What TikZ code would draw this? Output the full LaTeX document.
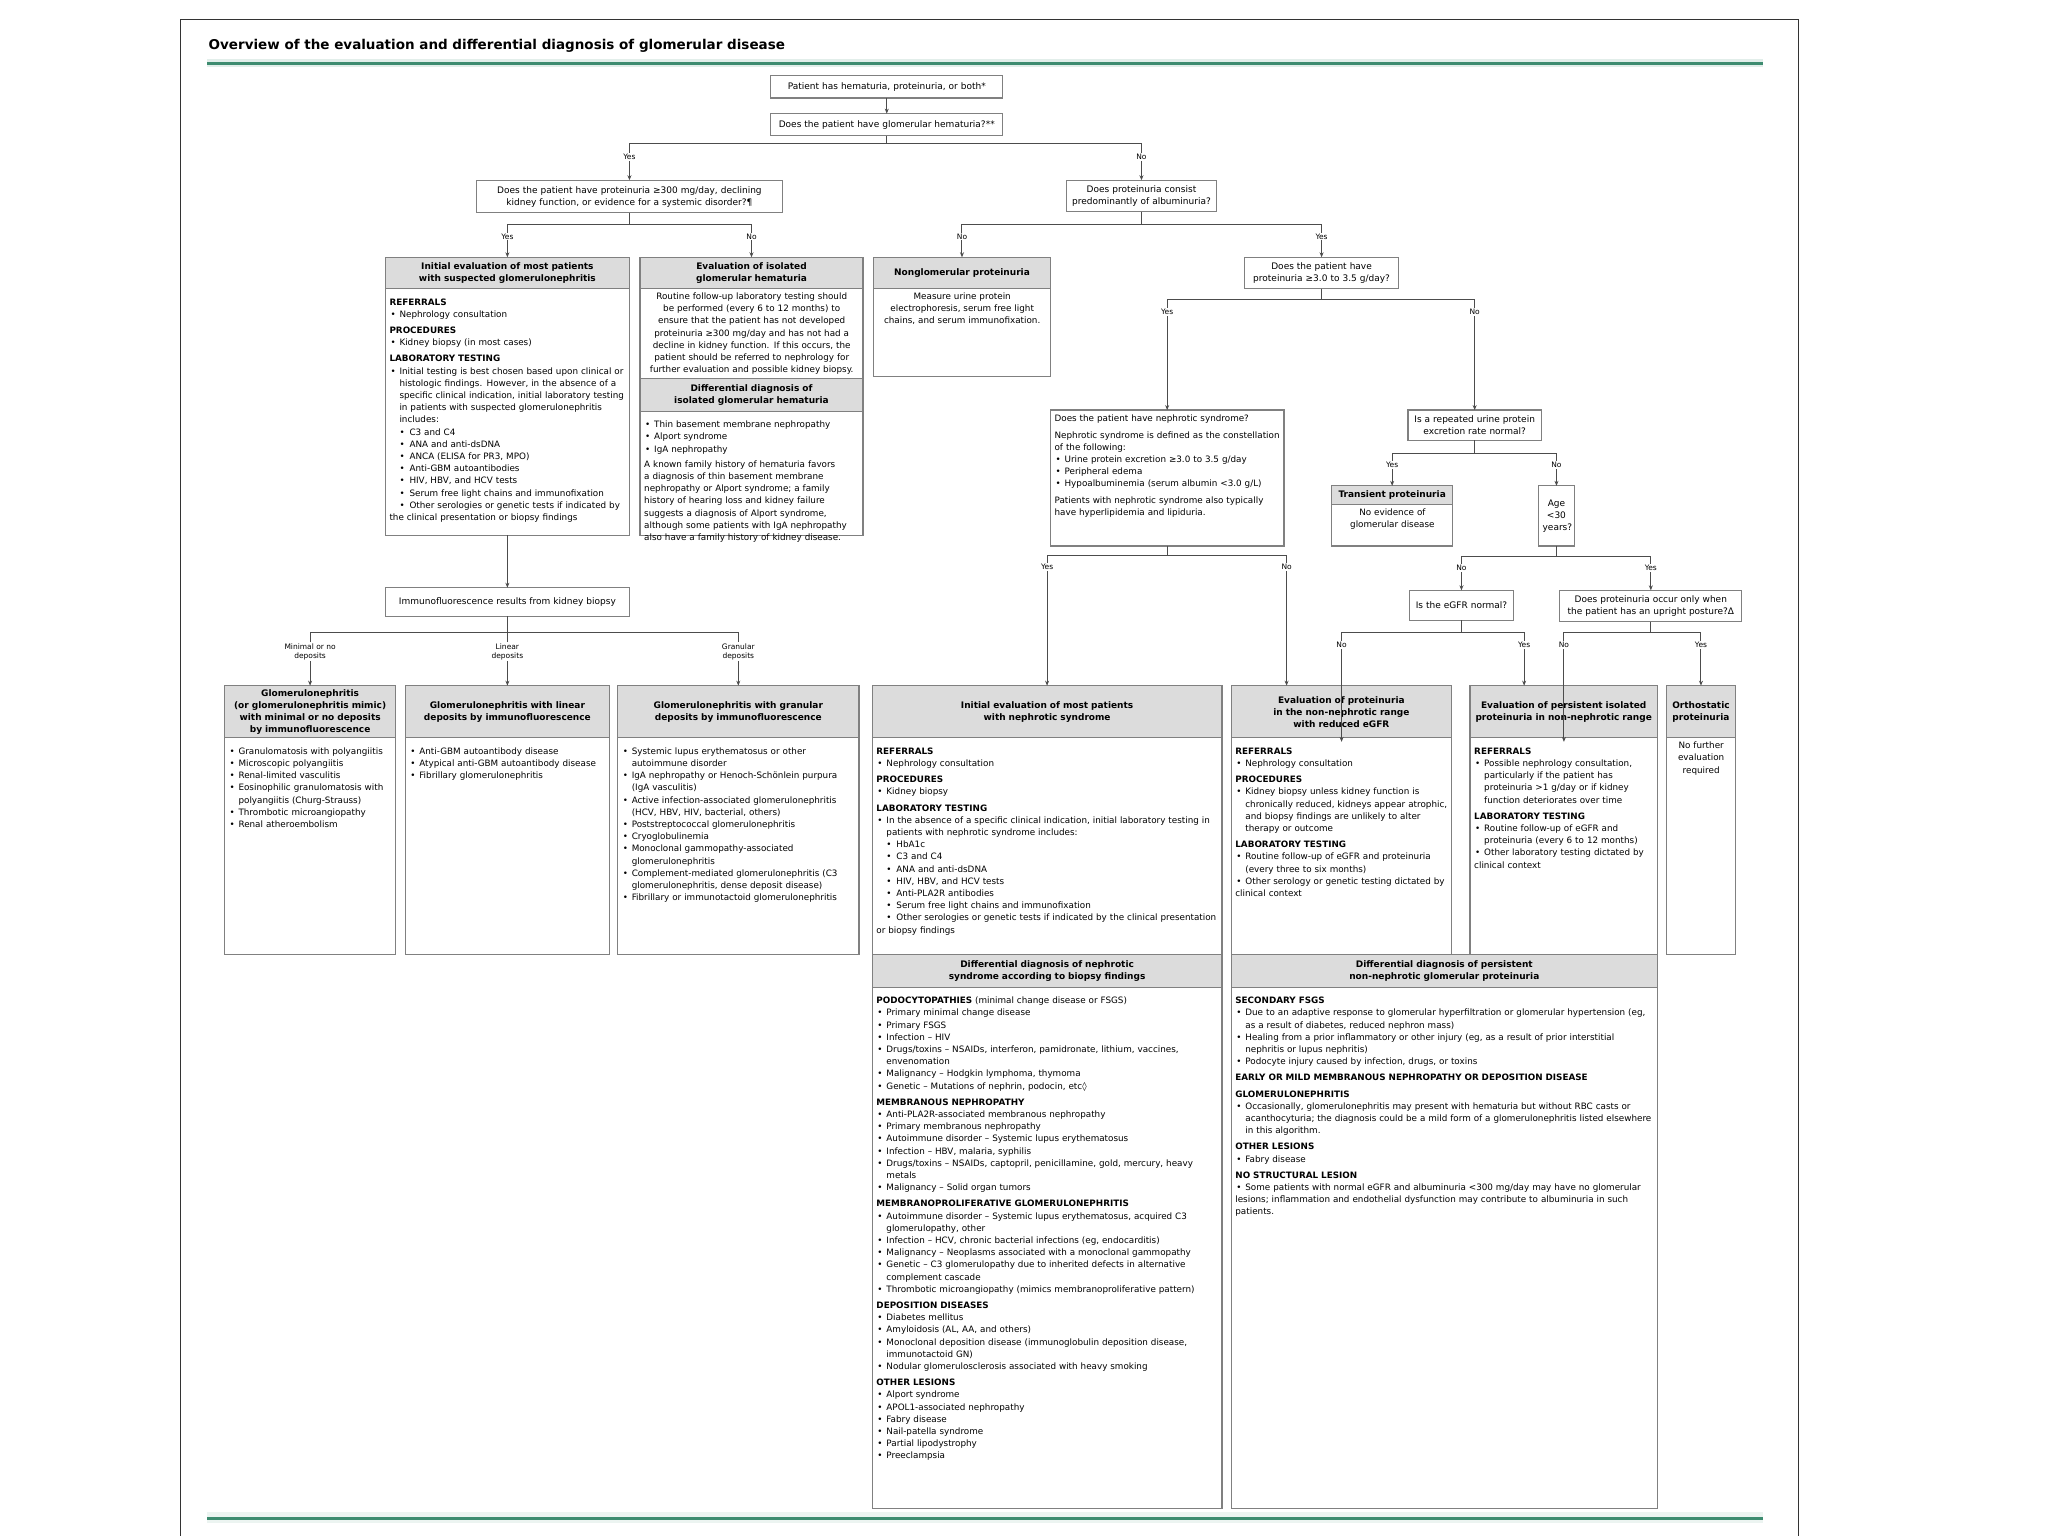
\documentclass[tikz,border=0pt]{standalone}
\usepackage{fontspec}
\setmainfont{DejaVu Sans}
\usetikzlibrary{calc,arrows.meta}
\definecolor{bord}{HTML}{808080}
\definecolor{hdrc}{HTML}{DCDCDC}
\definecolor{teal2}{HTML}{3E8C70}
\hyphenpenalty=10000 \exhyphenpenalty=10000
\newcommand\itm[1]{\par\hangindent=10pt\hangafter=1\noindent\makebox[10pt][l]{\hspace{1pt}\textbullet}#1}
\newcommand\sitm[1]{\par\hangindent=20pt\hangafter=1\noindent\hspace*{10pt}\makebox[10pt][l]{\textbullet}#1}
\newcommand\sect[1]{\par\vspace{4pt}\noindent\textbf{#1}}
\newcommand\fsect[1]{\par\noindent\textbf{#1}}
\newcommand\mkbox[6]{\pgfmathsetmacro\bw{(#4-#2)*1.3196}\pgfmathsetmacro\bh{(#5-#3)*1.306}%
\node[#6, anchor=north west, minimum width=\bw pt, minimum height=\bh pt] (#1) at (#2,#3) {};}
\newcommand\qbox[6]{\mkbox{#1}{#2}{#3}{#4}{#5}{bx}\pgfmathsetmacro\tw{(#4-#2)*1.3196-8}%
\node[qt, text width=\tw pt] (#1t) at (#1.center) {#6};}
\newcommand\gbox[9]{\mkbox{#1}{#2}{#3}{#4}{#6}{bx}\mkbox{#1h}{#2}{#3}{#4}{#5}{hd}%
\pgfmathsetmacro\tw{(#4-#2)*1.3196-8}%
\node[ht, text width=\tw pt] (#1ht) at (#1h.center) {#7};%
\node[bt, anchor=north west, text width=\tw pt, align=#9] (#1b) at ([xshift=4pt,yshift=-4pt]#2,#5) {#8};}
\tikzset{
 x=1.3196pt, y=-1.306pt,
 bx/.style={draw=bord, line width=1.2pt, fill=white, inner sep=0pt, outer sep=0pt},
 hd/.style={draw=bord, line width=1.2pt, fill=hdrc, inner sep=0pt, outer sep=0pt},
 ht/.style={inner sep=0pt, align=center, font=\fontsize{9}{12}\selectfont\bfseries},
 qt/.style={inner sep=0pt, align=center, font=\fontsize{9}{12}\selectfont},
 bt/.style={inner sep=0pt, font=\fontsize{8.8}{12.2}\selectfont},
 ln/.style={draw=black!70, line width=1pt},
 arr/.style={ln, -{Stealth[length=5pt,width=4pt]}},
 lab/.style={fill=white, inner sep=1pt, align=center, font=\fontsize{7.5}{9.5}\selectfont}
}
\begin{document}
\begin{tikzpicture}
\useasboundingbox (0,0) rectangle (1552,1176);
\fill[white] (0,0) rectangle (1552,1176);
\draw[black!80, line width=1.2pt] (137,15) rectangle (1363,1190);
\node[anchor=west, inner sep=0pt, font=\fontsize{13.5}{15}\selectfont\bfseries] (title) at (158,35) {Overview of the evaluation and differential diagnosis of glomerular disease};
\fill[teal2!15] (157,45) rectangle (1336,51);
\draw[teal2, line width=3pt] (157,48.5) -- (1336,48.5);
\fill[teal2!10] (157,1158) rectangle (1336,1166);
\draw[teal2, line width=3pt] (157,1163) -- (1336,1163);

% question boxes
\qbox{b1}{584}{58}{760}{75}{Patient has hematuria, proteinuria, or both*}
\qbox{b2}{584}{87}{760}{104}{Does the patient have glomerular hematuria?**}
\qbox{b3}{361}{138}{593}{163}{Does the patient have proteinuria ≥300 mg/day, declining kidney function, or evidence for a systemic disorder?¶}
\qbox{b4}{808}{138}{922}{162}{Does proteinuria consist predominantly of albuminuria?}
\qbox{D}{943}{197}{1060}{221}{Does the patient have proteinuria ≥3.0 to 3.5 g/day?}
\qbox{F}{1067}{314}{1168}{337}{Is a repeated urine protein excretion rate normal?}
\qbox{H}{1166}{372}{1193}{418}{Age\\<30\\years?}
\qbox{I}{1068}{452}{1147}{475}{Is the eGFR normal?}
\qbox{J}{1182}{452}{1320}{476}{Does proteinuria occur only when the patient has an upright posture?Δ}
\qbox{IF}{292}{450}{477}{472}{Immunofluorescence results from kidney biopsy}
\mkbox{E}{796}{314}{973}{418}{bx}
\pgfmathsetmacro\tw{(973-796)*1.3196-8}
\node[bt, anchor=north west, text width=\tw pt, align=left] (Et) at ([xshift=4pt,yshift=-5pt]796,314) {Does the patient have nephrotic syndrome?\par\vspace{4pt}\noindent Nephrotic syndrome is defined as the constellation of the following:
\itm{Urine protein excretion ≥3.0 to 3.5 g/day}\itm{Peripheral edema}\itm{Hypoalbuminemia (serum albumin <3.0 g/L)}\par\vspace{4pt}\noindent Patients with nephrotic syndrome also typically have hyperlipidemia and lipiduria.};

% connectors
\coordinate (s2) at (672,110); \coordinate (s3) at (477,172); \coordinate (s4) at (865,172);
\coordinate (sD) at (1001.5,229); \coordinate (sF) at (1117.5,347); \coordinate (sE) at (884.5,425);
\coordinate (sH) at (1179.5,426); \coordinate (sI) at (1107.5,484); \coordinate (sJ) at (1251,484);
\coordinate (sIF) at (384.5,484);
\coordinate (Oa) at (975,525); \coordinate (Ob) at (1057,525); \coordinate (Pa) at (1155,525); \coordinate (Pb) at (1214,525);
\draw[arr] (b1.south) -- (b2.north);
\draw[ln] (b2.south) -- (s2); \draw[arr] (s2) -| (b3.north); \draw[arr] (s2) -| (b4.north);
\draw[ln] (b3.south) -- (s3);
\draw[ln] (b4.south) -- (s4);
\draw[ln] (D.south) -- (sD);
\draw[ln] (F.south) -- (sF);
\draw[ln] (E.south) -- (sE);
\draw[ln] (H.south) -- (sH);
\draw[ln] (I.south) -- (sI);
\draw[ln] (J.south) -- (sJ);
\draw[ln] (IF.south) -- (sIF);

% header boxes
\gbox{A}{292}{197}{477}{221}{410}{Initial evaluation of most patients\\with suspected glomerulonephritis}{\fsect{REFERRALS}\itm{Nephrology consultation}\sect{PROCEDURES}\itm{Kidney biopsy (in most cases)}\sect{LABORATORY TESTING}\itm{Initial testing is best chosen based upon clinical or histologic findings. However, in the absence of a specific clinical indication, initial laboratory testing in patients with suspected glomerulonephritis includes:}\sitm{C3 and C4}\sitm{ANA and anti-dsDNA}\sitm{ANCA (ELISA for PR3, MPO)}\sitm{Anti-GBM autoantibodies}\sitm{HIV, HBV, and HCV tests}\sitm{Serum free light chains and immunofixation}\sitm{Other serologies or genetic tests if indicated by the clinical presentation or biopsy findings}}{left}
\gbox{B}{485}{197}{654}{221}{290}{Evaluation of isolated\\glomerular hematuria}{Routine follow-up laboratory testing should be performed (every 6 to 12 months) to ensure that the patient has not developed proteinuria ≥300 mg/day and has not had a decline in kidney function. If this occurs, the patient should be referred to nephrology for further evaluation and possible kidney biopsy.}{center}
\gbox{BB}{485}{290}{654}{315}{410}{Differential diagnosis of\\isolated glomerular hematuria}{\itm{Thin basement membrane nephropathy}\itm{Alport syndrome}\itm{IgA nephropathy}\par\vspace{3pt}\noindent A known family history of hematuria favors a diagnosis of thin basement membrane nephropathy or Alport syndrome; a family history of hearing loss and kidney failure suggests a diagnosis of Alport syndrome, although some patients with IgA nephropathy also have a family history of kidney disease.}{left}
\gbox{C}{662}{197}{796}{221}{288}{Nonglomerular proteinuria}{Measure urine protein electrophoresis, serum free light chains, and serum immunofixation.}{center}
\gbox{G}{1009}{372}{1101}{386}{418}{Transient proteinuria}{No evidence of\\glomerular disease}{center}

\gbox{K}{170}{525}{300}{565}{731}{Glomerulonephritis\\(or glomerulonephritis mimic) with minimal or no deposits by immunofluorescence}{\itm{Granulomatosis with polyangiitis}\itm{Microscopic polyangiitis}\itm{Renal-limited vasculitis}\itm{Eosinophilic granulomatosis with polyangiitis (Churg-Strauss)}\itm{Thrombotic microangiopathy}\itm{Renal atheroembolism}}{left}
\gbox{L}{307}{525}{462}{565}{731}{Glomerulonephritis with linear deposits by immunofluorescence}{\itm{Anti-GBM autoantibody disease}\itm{Atypical anti-GBM autoantibody disease}\itm{Fibrillary glomerulonephritis}}{left}
\gbox{M}{468}{525}{651}{565}{731}{Glomerulonephritis with granular deposits by immunofluorescence}{\itm{Systemic lupus erythematosus or other autoimmune disorder}\itm{IgA nephropathy or Henoch-Schönlein purpura (IgA vasculitis)}\itm{Active infection-associated glomerulonephritis (HCV, HBV, HIV, bacterial, others)}\itm{Poststreptococcal glomerulonephritis}\itm{Cryoglobulinemia}\itm{Monoclonal gammopathy-associated glomerulonephritis}\itm{Complement-mediated glomerulonephritis (C3 glomerulonephritis, dense deposit disease)}\itm{Fibrillary or immunotactoid glomerulonephritis}}{left}
\gbox{N}{661}{525}{926}{565}{731}{Initial evaluation of most patients\\with nephrotic syndrome}{\fsect{REFERRALS}\itm{Nephrology consultation}\sect{PROCEDURES}\itm{Kidney biopsy}\sect{LABORATORY TESTING}\itm{In the absence of a specific clinical indication, initial laboratory testing in patients with nephrotic syndrome includes:}\sitm{HbA1c}\sitm{C3 and C4}\sitm{ANA and anti-dsDNA}\sitm{HIV, HBV, and HCV tests}\sitm{Anti-PLA2R antibodies}\sitm{Serum free light chains and immunofixation}\sitm{Other serologies or genetic tests if indicated by the clinical presentation or biopsy findings}}{left}
\gbox{NN}{661}{731}{926}{756}{1155}{Differential diagnosis of nephrotic\\syndrome according to biopsy findings}{\fsect{PODOCYTOPATHIES} (minimal change disease or FSGS)\itm{Primary minimal change disease}\itm{Primary FSGS}\itm{Infection – HIV}\itm{Drugs/toxins – NSAIDs, interferon, pamidronate, lithium, vaccines, envenomation}\itm{Malignancy – Hodgkin lymphoma, thymoma}\itm{Genetic – Mutations of nephrin, podocin, etc◊}\sect{MEMBRANOUS NEPHROPATHY}\itm{Anti-PLA2R-associated membranous nephropathy}\itm{Primary membranous nephropathy}\itm{Autoimmune disorder – Systemic lupus erythematosus}\itm{Infection – HBV, malaria, syphilis}\itm{Drugs/toxins – NSAIDs, captopril, penicillamine, gold, mercury, heavy metals}\itm{Malignancy – Solid organ tumors}\sect{MEMBRANOPROLIFERATIVE GLOMERULONEPHRITIS}\itm{Autoimmune disorder – Systemic lupus erythematosus, acquired C3 glomerulopathy, other}\itm{Infection – HCV, chronic bacterial infections (eg, endocarditis)}\itm{Malignancy – Neoplasms associated with a monoclonal gammopathy}\itm{Genetic – C3 glomerulopathy due to inherited defects in alternative complement cascade}\itm{Thrombotic microangiopathy (mimics membranoproliferative pattern)}\sect{DEPOSITION DISEASES}\itm{Diabetes mellitus}\itm{Amyloidosis (AL, AA, and others)}\itm{Monoclonal deposition disease (immunoglobulin deposition disease, immunotactoid GN)}\itm{Nodular glomerulosclerosis associated with heavy smoking}\sect{OTHER LESIONS}\itm{Alport syndrome}\itm{APOL1-associated nephropathy}\itm{Fabry disease}\itm{Nail-patella syndrome}\itm{Partial lipodystrophy}\itm{Preeclampsia}}{left}
\gbox{O}{933}{525}{1100}{565}{731}{Evaluation of proteinuria\\in the non-nephrotic range\\with reduced eGFR}{\fsect{REFERRALS}\itm{Nephrology consultation}\sect{PROCEDURES}\itm{Kidney biopsy unless kidney function is chronically reduced, kidneys appear atrophic, and biopsy findings are unlikely to alter therapy or outcome}\sect{LABORATORY TESTING}\itm{Routine follow-up of eGFR and proteinuria (every three to six months)}\itm{Other serology or genetic testing dictated by clinical context}}{left}
\gbox{P}{1114}{525}{1256}{565}{731}{Evaluation of persistent isolated proteinuria in non-nephrotic range}{\fsect{REFERRALS}\itm{Possible nephrology consultation, particularly if the patient has proteinuria >1 g/day or if kidney function deteriorates over time}\sect{LABORATORY TESTING}\itm{Routine follow-up of eGFR and proteinuria (every 6 to 12 months)}\itm{Other laboratory testing dictated by clinical context}}{left}
\gbox{Q}{1263}{525}{1315}{565}{731}{Orthostatic\\proteinuria}{No further evaluation required}{center}
\gbox{R}{933}{731}{1256}{756}{1155}{Differential diagnosis of persistent\\non-nephrotic glomerular proteinuria}{\fsect{SECONDARY FSGS}\itm{Due to an adaptive response to glomerular hyperfiltration or glomerular hypertension (eg, as a result of diabetes, reduced nephron mass)}\itm{Healing from a prior inflammatory or other injury (eg, as a result of prior interstitial nephritis or lupus nephritis)}\itm{Podocyte injury caused by infection, drugs, or toxins}\sect{EARLY OR MILD MEMBRANOUS NEPHROPATHY OR DEPOSITION DISEASE}\sect{GLOMERULONEPHRITIS}\itm{Occasionally, glomerulonephritis may present with hematuria but without RBC casts or acanthocyturia; the diagnosis could be a mild form of a glomerulonephritis listed elsewhere in this algorithm.}\sect{OTHER LESIONS}\itm{Fabry disease}\sect{NO STRUCTURAL LESION}\itm{Some patients with normal eGFR and albuminuria <300 mg/day may have no glomerular lesions; inflammation and endothelial dysfunction may contribute to albuminuria in such patients.}}{left}

% branch arrows
\draw[arr] (s3) -| (A.north); \draw[arr] (s3) -| (B.north);
\draw[arr] (s4) -| (C.north); \draw[arr] (s4) -| (D.north);
\draw[arr] (sD) -| (E.north); \draw[arr] (sD) -| (F.north);
\draw[arr] (sF) -| (G.north); \draw[arr] (sF) -| (H.north);
\draw[arr] (sE) -| (N.north); \draw[arr] (sE) -| (Oa);
\draw[arr] (sH) -| (I.north); \draw[arr] (sH) -| (J.north);
\draw[arr] (sI) -| (Ob); \draw[arr] (sI) -| (Pa);
\draw[arr] (sJ) -| (Pb); \draw[arr] (sJ) -| (Q.north);
\draw[arr] (A.south) -- (IF.north);
\draw[arr] (sIF) -| (K.north); \draw[arr] (sIF) -| (L.north); \draw[arr] (sIF) -| (M.north);

% labels
\node[lab] (l1) at ($(b3.north |- s2)+(0,10)$) {Yes};
\node[lab] (l2) at ($(b4.north |- s2)+(0,10)$) {No};
\node[lab] (l3) at ($(A.north |- s3)+(0,9)$) {Yes};
\node[lab] (l4) at ($(B.north |- s3)+(0,9)$) {No};
\node[lab] (l5) at ($(C.north |- s4)+(0,9)$) {No};
\node[lab] (l6) at ($(D.north |- s4)+(0,9)$) {Yes};
\node[lab] (l7) at ($(E.north |- sD)+(0,10)$) {Yes};
\node[lab] (l8) at ($(F.north |- sD)+(0,10)$) {No};
\node[lab] (l9) at ($(G.north |- sF)+(0,9)$) {Yes};
\node[lab] (l10) at ($(H.north |- sF)+(0,9)$) {No};
\node[lab] (l11) at ($(N.north |- sE)+(0,9)$) {Yes};
\node[lab] (l12) at ($(Oa |- sE)+(0,9)$) {No};
\node[lab] (l13) at ($(I.north |- sH)+(0,9)$) {No};
\node[lab] (l14) at ($(J.north |- sH)+(0,9)$) {Yes};
\node[lab] (l15) at ($(Ob |- sI)+(0,10)$) {No};
\node[lab] (l16) at ($(Pa |- sI)+(0,10)$) {Yes};
\node[lab] (l17) at ($(Pb |- sJ)+(0,10)$) {No};
\node[lab] (l18) at ($(Q.north |- sJ)+(0,10)$) {Yes};
\node[lab] (l19) at ($(K.north |- sIF)+(0,15)$) {Minimal or no\\deposits};
\node[lab] (l20) at ($(L.north |- sIF)+(0,15)$) {Linear\\deposits};
\node[lab] (l21) at ($(M.north |- sIF)+(0,15)$) {Granular\\deposits};
\end{tikzpicture}
\end{document}
